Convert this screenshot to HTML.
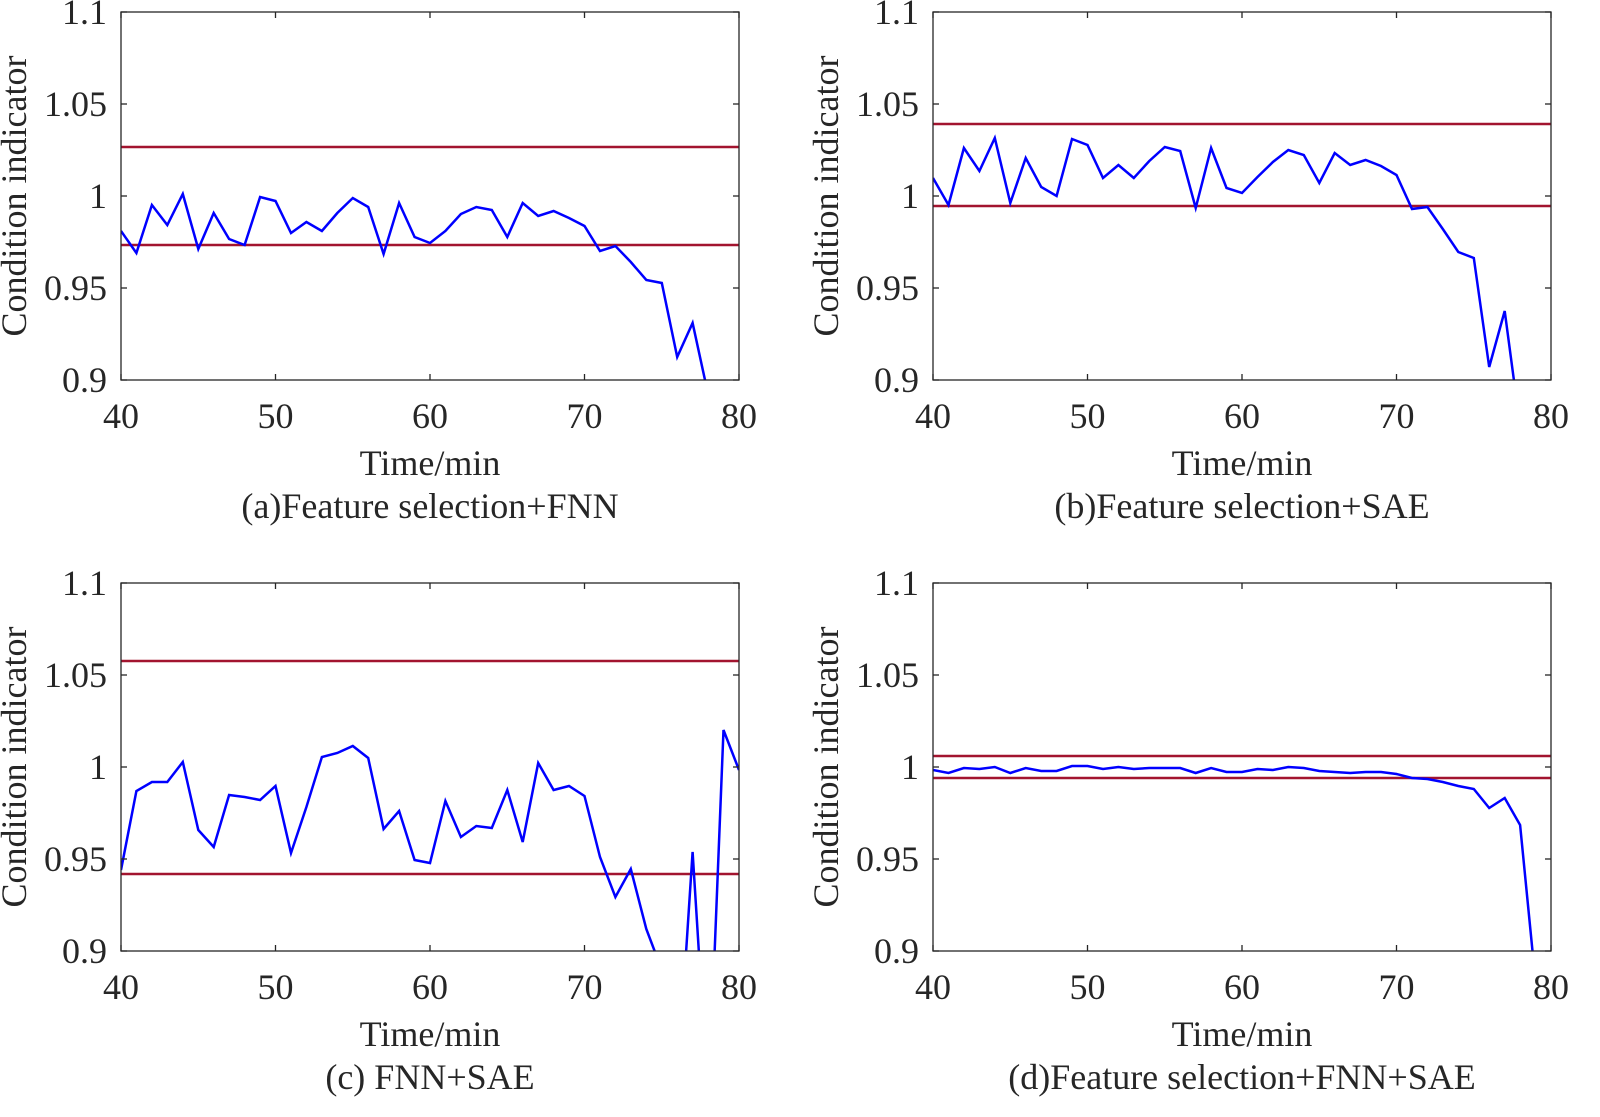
<!DOCTYPE html>
<html><head><meta charset="utf-8"><style>
html,body{margin:0;padding:0;background:#fff}
svg{display:block;font-family:"Liberation Serif",serif}
</style></head><body>
<svg id="s" width="1600" height="1117" xmlns="http://www.w3.org/2000/svg"></svg>
<script>
const S=document.getElementById('s');
const panels=[
 {x0:121,y0:12,red:[147,245],cap:"(a)Feature selection+FNN",
  d:[[40,231],[41,253],[42,205],[43,225],[44,194],[45,249],[46,213],[47,239],[48,245],[49,197],[50,201],[51,233],[52,222],[53,231],[54,213],[55,198],[56,207],[57,254],[58,203],[59,237],[60,243],[61,231],[62,214],[63,207],[64,210],[65,237],[66,203],[67,216],[68,211],[69,218],[70,226],[71,251],[72,246],[73,262],[74,280],[75,283],[76,357],[77,323],[77.8,380]]},
 {x0:933,y0:12,red:[124,206],cap:"(b)Feature selection+SAE",
  d:[[40,178],[41,205],[42,148],[43,171],[44,138],[45,203],[46,158],[47,187],[48,196],[49,139],[50,145],[51,178],[52,165],[53,178],[54,161],[55,147],[56,151],[57,208],[58,148],[59,188],[60,193],[61,177],[62,162],[63,150],[64,155],[65,183],[66,153],[67,165],[68,160],[69,166],[70,175],[71,209],[72,207],[73,229],[74,252],[75,258],[76,367],[77,311],[77.6,380]]},
 {x0:121,y0:583,red:[661,874],cap:"(c) FNN+SAE",
  d:[[40,870],[41,791],[42,782],[43,782],[44,762],[45,830],[46,847],[47,795],[48,797],[49,800],[50,786],[51,853],[52,807],[53,757],[54,753],[55,746],[56,758],[57,829],[58,811],[59,860],[60,863],[61,801],[62,837],[63,826],[64,828],[65,790],[66,842],[67,763],[68,790],[69,786],[70,796],[71,857],[72,897],[73,869],[74,929],[75,970],[76.5,970],[77,852],[77.6,1000],[78.3,1000],[79,730],[80,770]]},
 {x0:933,y0:583,red:[756,778],cap:"(d)Feature selection+FNN+SAE",
  d:[[40,770],[41,773],[42,768],[43,769],[44,767],[45,773],[46,768],[47,771],[48,771],[49,766],[50,766],[51,769],[52,767],[53,769],[54,768],[55,768],[56,768],[57,773],[58,768],[59,772],[60,772],[61,769],[62,770],[63,767],[64,768],[65,771],[66,772],[67,773],[68,772],[69,772],[70,774],[71,778],[72,779],[73,782],[74,786],[75,789],[76,808],[77,798],[78,825],[78.8,951]]}
];
let h='';
panels.forEach((p,i)=>{
 const W=618,H=368,X=v=>p.x0+(v-40)/40*W;
 h+=`<clipPath id="c${i}"><rect x="${p.x0}" y="${p.y0}" width="${W}" height="${H}"/></clipPath>`;
 p.red.forEach(y=>h+=`<line x1="${p.x0}" x2="${p.x0+W}" y1="${y}" y2="${y}" stroke="#a2142f" stroke-width="2.5"/>`);
 h+=`<polyline clip-path="url(#c${i})" fill="none" stroke="#0000ff" stroke-width="2.5" points="${p.d.map(a=>X(a[0]).toFixed(1)+','+a[1]).join(' ')}"/>`;
 h+=`<rect x="${p.x0}" y="${p.y0}" width="${W}" height="${H}" fill="none" stroke="#262626" stroke-width="1.3"/>`;
 ['1.1','1.05','1','0.95','0.9'].forEach((t,k)=>{const y=p.y0+k*92;
  h+=`<line x1="${p.x0}" x2="${p.x0+6}" y1="${y}" y2="${y}" stroke="#262626" stroke-width="1.3"/><line x1="${p.x0+W}" x2="${p.x0+W-6}" y1="${y}" y2="${y}" stroke="#262626" stroke-width="1.3"/>`;
  h+=`<text x="${p.x0-14}" y="${y+12}" font-size="36" text-anchor="end" fill="#262626">${t}</text>`;});
 [40,50,60,70,80].forEach(v=>{const x=X(v);
  h+=`<line x1="${x}" x2="${x}" y1="${p.y0+H}" y2="${p.y0+H-6}" stroke="#262626" stroke-width="1.3"/><line x1="${x}" x2="${x}" y1="${p.y0}" y2="${p.y0+6}" stroke="#262626" stroke-width="1.3"/>`;
  h+=`<text x="${x}" y="${p.y0+H+48}" font-size="36" text-anchor="middle" fill="#262626">${v}</text>`;});
 h+=`<text x="${p.x0+W/2}" y="${p.y0+H+95}" font-size="36" text-anchor="middle" fill="#262626">Time/min</text>`;
 h+=`<text x="${p.x0+W/2}" y="${p.y0+H+138}" font-size="36" text-anchor="middle" fill="#262626">${p.cap}</text>`;
 h+=`<text transform="translate(${p.x0-95},${p.y0+H/2}) rotate(-90)" font-size="36" text-anchor="middle" fill="#262626">Condition indicator</text>`;
});
S.innerHTML=h;
</script>
</body></html>
